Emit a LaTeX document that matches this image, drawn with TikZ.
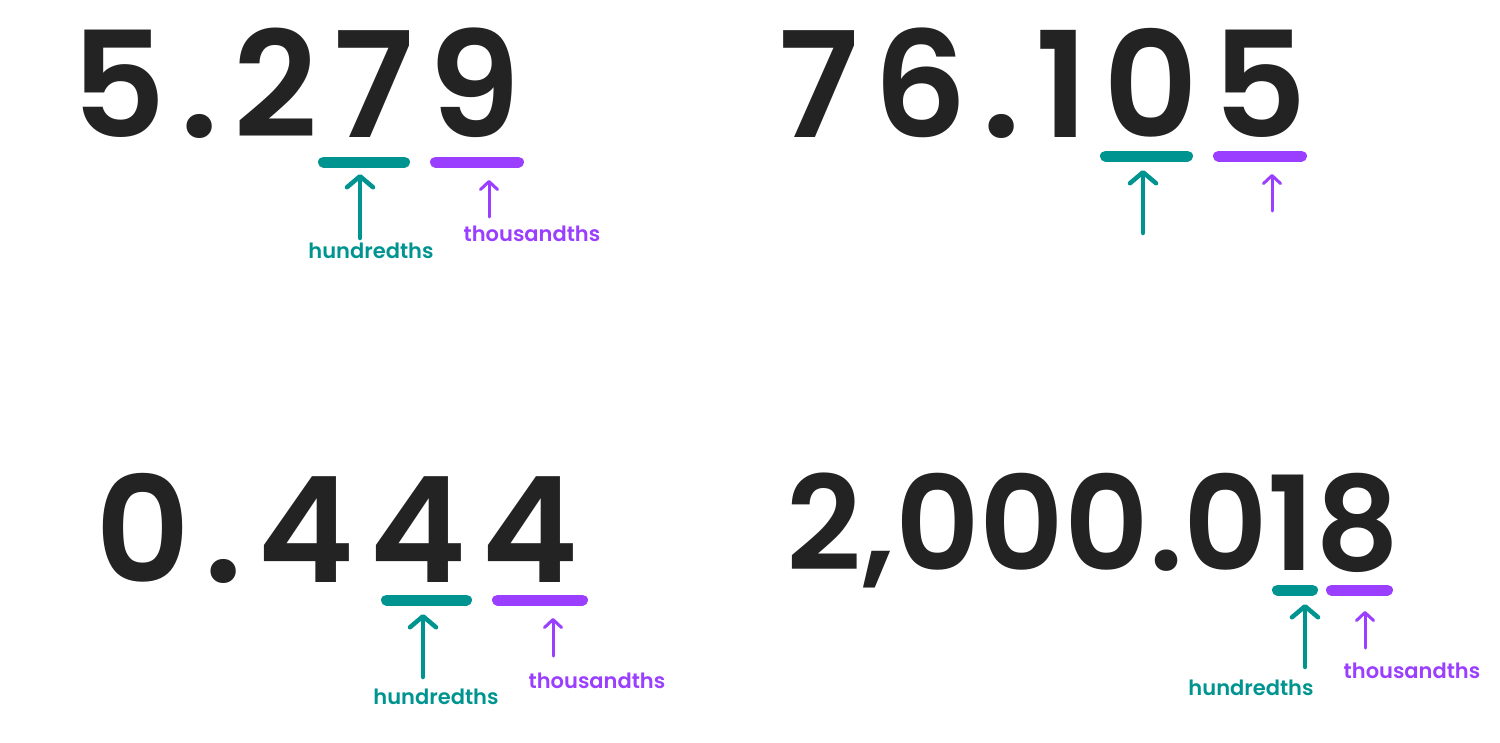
\documentclass[tikz,border=0pt]{standalone}
\usepackage{fontspec}
\setmainfont{Poppins}
\newfontfamily\numfont{Poppins SemiBold}[LetterSpace=10]
\newfontfamily\condfont{Poppins SemiBold}[Numbers=Proportional]
\newfontfamily\labfont{Poppins SemiBold}
\usetikzlibrary{arrows.meta}
\definecolor{ink}{HTML}{232323}
\definecolor{tealc}{HTML}{009490}
\definecolor{purp}{HTML}{9A3EFF}
\tikzset{
  num/.style={anchor=base, inner sep=0pt, text=ink, font=\numfont\fontsize{147}{147}\selectfont},
  cnum/.style={anchor=base, inner sep=0pt, text=ink, font=\condfont\fontsize{131}{131}\selectfont},
  bar/.style={line width=11pt, line cap=round},
  hbar/.style={bar, draw=tealc},
  tbar/.style={bar, draw=purp},
  harr/.style={draw=tealc, line width=4.5pt, line cap=round, -{Straight Barb[length=11pt, width=26pt, line width=4.5pt, round]}},
  tarr/.style={draw=purp, line width=3pt, line cap=round, -{Straight Barb[length=8pt, width=17pt, line width=3pt, round]}},
  hlab/.style={anchor=base, inner sep=0pt, text=tealc, font=\labfont\fontsize{21}{21}\selectfont},
  tlab/.style={anchor=base, inner sep=0pt, text=purp, font=\labfont\fontsize{21}{21}\selectfont}
}
\begin{document}
\begin{tikzpicture}[x=1pt, y=-1pt]
\useasboundingbox (0,0) rectangle (1500,742);
% ---- 5.279
\node[num] (n1) at (296,137) {5.279};
\draw[hbar] (323.5,162) coordinate (h1a) -- (404.5,162) coordinate (h1b);
\draw[tbar] (435.5,162) coordinate (t1a) -- (518.5,162) coordinate (t1b);
\coordinate (h1h) at (360,174);
\coordinate (h1t) at (360,238);
\coordinate (t1h) at (489,180);
\coordinate (t1t) at (489,217);
\draw[harr] (h1t) -- (h1h);
\draw[tarr] (t1t) -- (t1h);
\node[hlab] (l1h) at (371,258) {hundredths};
\node[tlab] (l1t) at (532,241) {thousandths};
% ---- 76.105
\node[num] (n2) at (1043,137) {76.105};
\draw[hbar] (1105.5,156) coordinate (h2a) -- (1187.5,156) coordinate (h2b);
\draw[tbar] (1218.5,156) coordinate (t2a) -- (1301.5,156) coordinate (t2b);
\coordinate (h2h) at (1143,170);
\coordinate (h2t) at (1143,233);
\coordinate (t2h) at (1272,174);
\coordinate (t2t) at (1272,211);
\draw[harr] (h2t) -- (h2h);
\draw[tarr] (t2t) -- (t2h);
% ---- 0.444
\node[num] (n3) at (337,582) {0.444};
\draw[hbar] (386.5,600) coordinate (h3a) -- (466.5,600) coordinate (h3b);
\draw[tbar] (497.5,600) coordinate (t3a) -- (582.5,600) coordinate (t3b);
\coordinate (h3h) at (423,614);
\coordinate (h3t) at (423,677);
\coordinate (t3h) at (553,618);
\coordinate (t3t) at (553,656);
\draw[harr] (h3t) -- (h3h);
\draw[tarr] (t3t) -- (t3h);
\node[hlab] (l3h) at (436,704) {hundredths};
\node[tlab] (l3t) at (597,688) {thousandths};
% ---- 2,000.018
\node[cnum] (n4) at (1093,570) {2,000.018};
\draw[hbar] (1277.5,590) coordinate (h4a) -- (1312.5,590) coordinate (h4b);
\draw[tbar] (1331.5,590) coordinate (t4a) -- (1387.5,590) coordinate (t4b);
\coordinate (h4h) at (1305,604);
\coordinate (h4t) at (1305,667);
\coordinate (t4h) at (1365,611);
\coordinate (t4t) at (1365,648);
\draw[harr] (h4t) -- (h4h);
\draw[tarr] (t4t) -- (t4h);
\node[hlab] (l4h) at (1251,695) {hundredths};
\node[tlab] (l4t) at (1412,678) {thousandths};
\end{tikzpicture}
\end{document}
